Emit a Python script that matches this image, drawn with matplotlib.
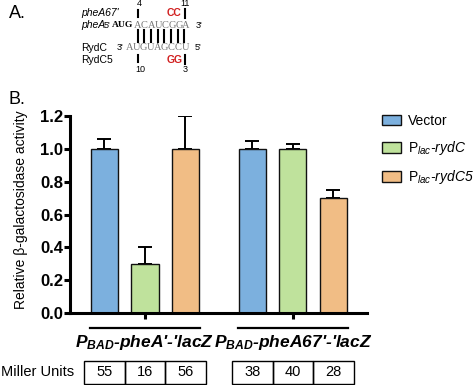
import matplotlib
matplotlib.use("Agg")
import matplotlib.pyplot as plt
from matplotlib.patches import Patch, Rectangle
from matplotlib.lines import Line2D
from matplotlib.transforms import blended_transform_factory

plt.rcParams['font.family'] = ['Liberation Sans', 'DejaVu Sans']
plt.rcParams['mathtext.fontset'] = 'custom'
plt.rcParams['mathtext.rm'] = 'Liberation Sans'
plt.rcParams['mathtext.it'] = 'Liberation Sans:italic'
plt.rcParams['mathtext.bf'] = 'Liberation Sans:italic:bold'

# data
series = ["Vector", r"$\mathrm{P}_{lac}$-rydC", r"$\mathrm{P}_{lac}$-rydC5"]
groups = [r"$\mathbf{P_{BAD}}$-pheA'-'lacZ", r"$\mathbf{P_{BAD}}$-pheA67'-'lacZ"]
values = [[1.0, 0.30, 1.0], [1.0, 1.0, 0.70]]
errors = [[0.06, 0.10, 0.20], [0.05, 0.03, 0.05]]
miller = [[55, 16, 56], [38, 40, 28]]
colors = ["#7cb0de", "#bfe29c", "#f1bd85"]

W, H = 474, 385
fx = lambda x: x / W
fy = lambda y: 1 - y / H

fig = plt.figure(figsize=(W / 100, H / 100), dpi=100)
ax = fig.add_axes([fx(70), fy(313), (367 - 70) / W, (313 - 116) / H])

group_pos = [0.0, 3.65]
for g, start in enumerate(group_pos):
    for i in range(3):
        x = start + i
        ax.bar(x, values[g][i], width=0.67, color=colors[i], edgecolor="#111111",
               linewidth=1.0, zorder=2)
        ax.errorbar(x, values[g][i], yerr=[[0], [errors[g][i]]], fmt="none",
                    ecolor="black", elinewidth=1.4, capsize=5, capthick=1.4, zorder=1)

ax.set_xlim(-0.85, 6.48)
ax.set_ylim(0, 1.2)
ax.set_yticks([0, 0.2, 0.4, 0.6, 0.8, 1.0, 1.2])
ax.set_yticklabels(["%.1f" % t for t in ax.get_yticks()], fontweight="bold", fontsize=12)
ax.set_xticks([s + 1 for s in group_pos])
ax.set_xticklabels([])
for s in ["top", "right"]:
    ax.spines[s].set_visible(False)
for s in ["left", "bottom"]:
    ax.spines[s].set_linewidth(2.2)
ax.tick_params(axis="both", width=2.2, length=4, pad=1)

fig.text(fx(21), fy(210), u"Relative \u03b2-galactosidase activity", rotation=90,
         ha="center", va="center", fontsize=10)

bt = blended_transform_factory(ax.transData, fig.transFigure)
for g, start in enumerate(group_pos):
    fig.add_artist(Line2D([start - 0.36, start + 2.36], [fy(328), fy(328)],
                          transform=bt, color="black", linewidth=1.6))
    fig.text(start + 1, fy(343), groups[g], transform=bt, ha="center", va="center",
             fontsize=12.5, fontweight="bold", fontstyle="italic")
    for i in range(3):
        x = start + i
        fig.add_artist(Rectangle((x - 0.5, fy(384)), 1.0, fy(361) - fy(384),
                                 transform=bt, fill=False, edgecolor="black", linewidth=1.0))
        fig.text(x, fy(372), str(miller[g][i]), transform=bt, ha="center", va="center",
                 fontsize=10.5)
fig.text(fx(1), fy(372), "Miller Units", ha="left", va="center", fontsize=10.5)

handles = [Patch(facecolor=c, edgecolor="#111111", linewidth=1.0) for c in colors]
leg = fig.legend(handles, series, loc="upper left", bbox_to_anchor=(fx(382), fy(114)),
                 frameon=False, fontsize=10, handlelength=1.35, handleheight=0.8,
                 handletextpad=0.55, labelspacing=0.8, borderaxespad=0, borderpad=0)
for t in leg.get_texts()[1:]:
    t.set_fontstyle("italic")

# panel labels
fig.text(fx(9), fy(13), "A.", fontsize=13, ha="left", va="center")
fig.text(fx(9), fy(99), "B.", fontsize=13, ha="left", va="center")

# panel A sequence diagram
sz = 7.5
ser = 7.5
fig.text(fx(81), fy(13), "pheA67'", fontsize=sz, fontstyle="italic", va="center")
fig.text(fx(81), fy(25), "pheA", fontsize=sz, fontstyle="italic", va="center")
fig.text(fx(104), fy(25), "5'", fontsize=6.5, va="center")
fig.text(fx(133), fy(25), "AUG", fontsize=6.8, family="Liberation Serif",
         fontweight="bold", ha="right", va="center")
top = "ACAUCGGA"
for i, ch in enumerate(top):
    fig.text(fx(137.5 + 6.9 * i), fy(25), ch, fontsize=ser, family="Liberation Serif",
             color="#777777", ha="center", va="center")
fig.text(fx(196), fy(25), "3'", fontsize=6.5, va="center")
for i in range(8):
    xx = fx(137.5 + 6.7 * i)
    fig.add_artist(Line2D([xx, xx], [fy(30), fy(42)], color="black", linewidth=1.5))
fig.text(fx(81), fy(48), "RydC", fontsize=sz, va="center")
fig.text(fx(117), fy(48), "3'", fontsize=6.5, va="center")
bot = "AUGUAGCCU"
for i, ch in enumerate(bot):
    fig.text(fx(130 + 6.9 * i), fy(48), ch, fontsize=ser, family="Liberation Serif",
             color="#777777", ha="center", va="center")
fig.text(fx(195), fy(48), "5'", fontsize=6.5, va="center")
fig.text(fx(81), fy(60), "RydC5", fontsize=sz, va="center")
fig.text(fx(174), fy(13), "CC", fontsize=sz, color="#d11f1f", fontweight="bold",
         ha="center", va="center")
fig.text(fx(175), fy(60), "GG", fontsize=sz, color="#d11f1f", fontweight="bold",
         ha="center", va="center")
for xx, y0, y1 in [(138, 10, 17), (185, 9, 18), (138, 55, 62), (185, 55, 64)]:
    fig.add_artist(Line2D([fx(xx), fx(xx)], [fy(y0), fy(y1)], color="black", linewidth=1.5))
for txt, xx, yy in [("4", 139, 4), ("11", 185, 4), ("10", 140, 69), ("3", 185, 69)]:
    fig.text(fx(xx), fy(yy), txt, fontsize=6.5, ha="center", va="center")

fig.savefig("out.png", dpi=100)
